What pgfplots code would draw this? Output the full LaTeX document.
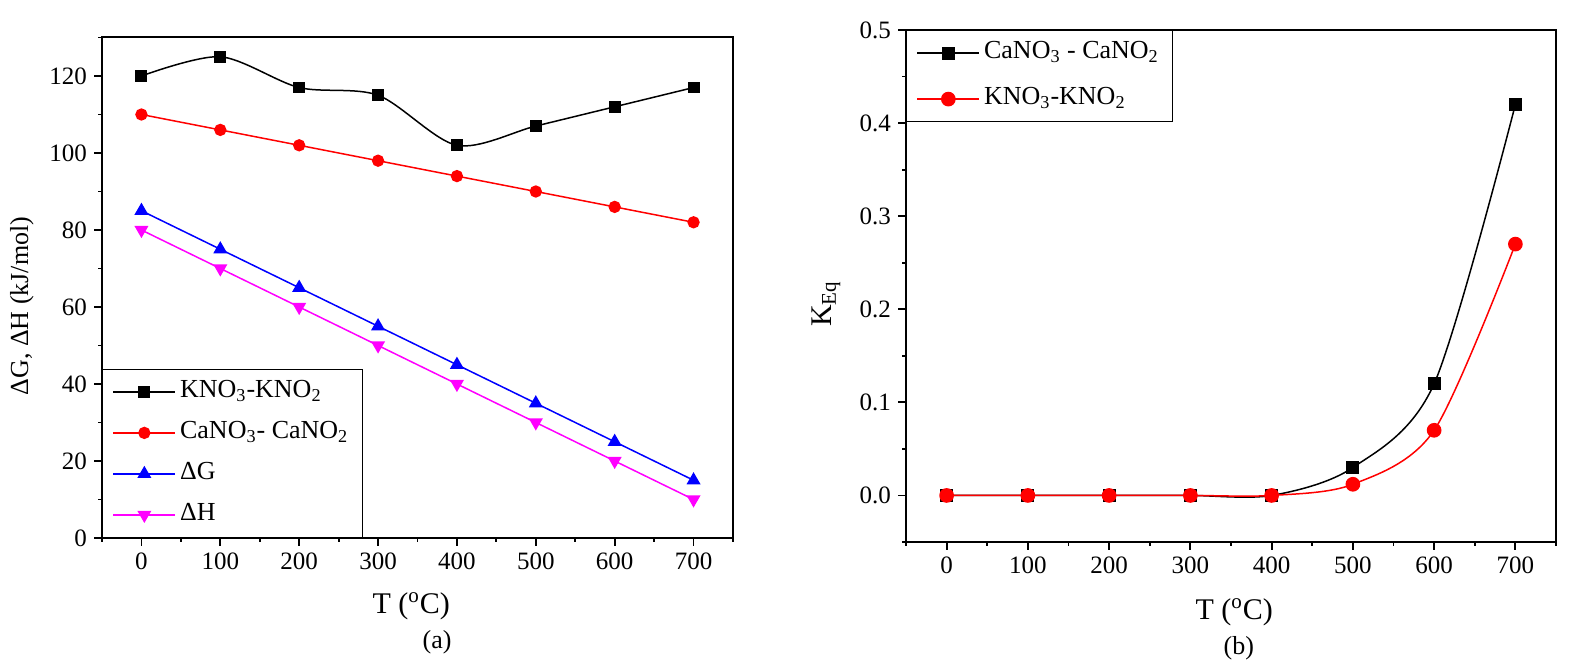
\documentclass[border=0pt]{standalone}
\usepackage{fontspec}
\setmainfont{Liberation Serif}
\usepackage{pgfplots}
\pgfplotsset{compat=1.18}
\definecolor{mymag}{RGB}{255,0,255}
\definecolor{myred}{RGB}{255,0,0}
\definecolor{myblue}{RGB}{0,0,255}
\begin{document}
\begin{tikzpicture}
\useasboundingbox (0,0) rectangle (787.5pt,334.5pt);
\pgfplotsset{
  mystyle/.style={
    scale only axis,
    tick pos=left, tick align=outside,
    axis line style={line width=1pt},
    major tick length=4pt, minor tick length=2pt,
    every tick/.style={black, line width=0.9pt},
    tick label style={font=\fontsize{12.5}{14}\selectfont},
    /pgf/number format/assume math mode=true,
    label style={font=\fontsize{15}{17}\selectfont},
    xmin=-50, xmax=750, xtick={0,100,...,700}, minor xtick={-50,50,...,750},
    legend cell align=left,
    legend image code/.code={\draw[mark repeat=2,mark phase=2] plot coordinates {(0pt,0pt) (15.5pt,0pt) (31pt,0pt)};},
  }
}
% ---------------- panel (a)
\begin{axis}[mystyle,
  at={(51pt,65.5pt)}, anchor=south west,
  width=315.5pt, height=250.25pt,
  ymin=0, ymax=130, ytick={0,20,...,120}, minor ytick={10,30,...,130},
  xlabel={T (\textsuperscript{o}C)},
  ylabel={ΔG, ΔH (kJ/mol)},
  xlabel style={at={(axis description cs:0.49,-0.136)}, anchor=center},
  ylabel style={at={(axis description cs:-0.127,0.4635)}, anchor=center, font=\fontsize{13}{15}\selectfont},
  legend style={at={(0,0)}, anchor=south west, draw=black, line width=0.6pt,
    font=\fontsize{13}{15}\selectfont, inner xsep=5pt, inner ysep=2pt, row sep=2pt,
    nodes={text height=10pt, text depth=4.5pt}},
  extra description/.code={\node[font=\fontsize{13}{15}\selectfont] at (0.531,-0.208) {(a)};},
]
\addplot[black, line width=0.75pt, smooth, mark=square*, mark size=2.6pt]
  coordinates {(0,120) (100,125) (200,117) (300,115) (400,102) (500,107) (600,112) (700,117)};
\addlegendentry{KNO\textsubscript{3}-KNO\textsubscript{2}}
\addplot[myred, line width=0.75pt, mark=*, mark size=2.7pt]
  coordinates {(0,110) (100,106) (200,102) (300,98) (400,94) (500,90) (600,86) (700,82)};
\addlegendentry{CaNO\textsubscript{3}- CaNO\textsubscript{2}}
\addplot[myblue, line width=0.75pt, mark=triangle*, mark size=3.3pt]
  coordinates {(0,85) (100,75) (200,65) (300,55) (400,45) (500,35) (600,25) (700,15)};
\addlegendentry{ΔG}
\addplot[mymag, line width=0.75pt, mark=triangle*, mark size=3.3pt, mark options={rotate=180}]
  coordinates {(0,80) (100,70) (200,60) (300,50) (400,40) (500,30) (600,20) (700,10)};
\addlegendentry{ΔH}
\end{axis}
% ---------------- panel (b)
\begin{axis}[mystyle,
  at={(453pt,63.5pt)}, anchor=south west,
  width=325pt, height=256pt,
  ymin=-0.05, ymax=0.5, ytick={0,0.1,0.2,0.3,0.4,0.5}, minor ytick={-0.05,0.05,0.15,0.25,0.35,0.45},
  yticklabel style={/pgf/number format/.cd, fixed, fixed zerofill, precision=1},
  xlabel={T (\textsuperscript{o}C)},
  ylabel={K\textsubscript{Eq}},
  xlabel style={at={(axis description cs:0.505,-0.137)}, anchor=center},
  ylabel style={at={(axis description cs:-0.123,0.465)}, anchor=center},
  legend style={at={(0,1)}, anchor=north west, draw=black, line width=0.6pt,
    font=\fontsize{13}{15}\selectfont, inner xsep=5pt, inner ysep=2pt, row sep=4.5pt,
    nodes={text height=10pt, text depth=4.5pt}},
  extra description/.code={\node[font=\fontsize{13}{15}\selectfont] at (0.512,-0.207) {(b)};},
]
\addplot[black, line width=0.75pt, smooth, mark=square*, mark size=2.9pt]
  coordinates {(0,0) (100,0) (200,0) (300,0) (400,0) (500,0.03) (600,0.12) (700,0.42)};
\addlegendentry{CaNO\textsubscript{3} - CaNO\textsubscript{2}}
\addplot[myred, line width=0.75pt, smooth, mark=*, mark size=3.3pt]
  coordinates {(0,0) (100,0) (200,0) (300,0) (400,0) (500,0.012) (600,0.07) (700,0.27)};
\addlegendentry{KNO\textsubscript{3}-KNO\textsubscript{2}}
\end{axis}
\end{tikzpicture}
\end{document}
